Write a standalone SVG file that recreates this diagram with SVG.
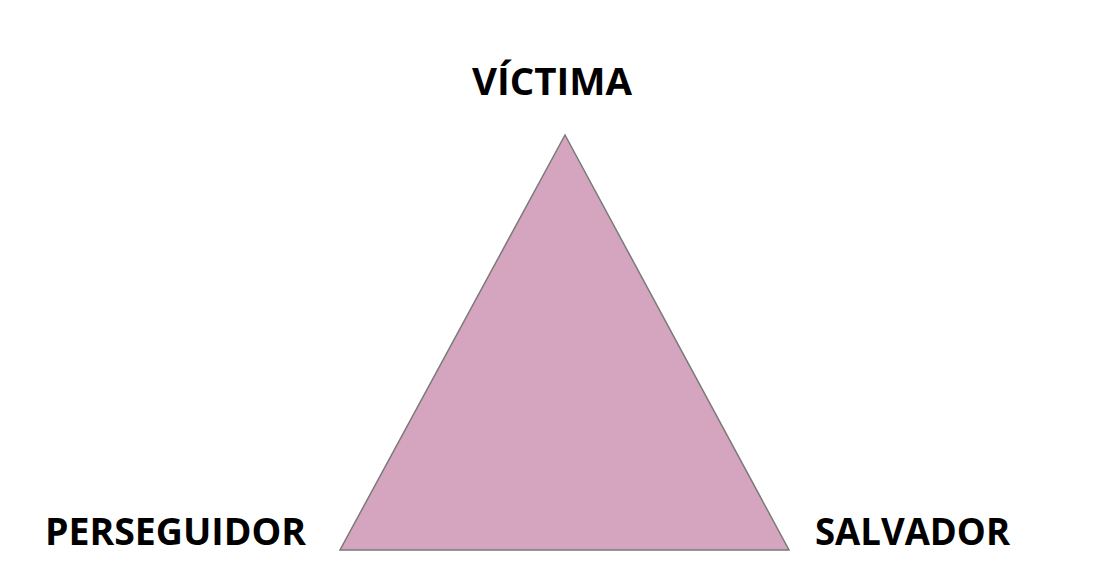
<svg xmlns="http://www.w3.org/2000/svg" width="1100" height="577" viewBox="0 0 1100 577">
<style>
.lbl{font-family:"Open Sans","Liberation Sans",sans-serif;font-weight:bold;font-size:38px;fill:#000}
</style>
<rect width="1100" height="577" fill="#fff"/>
<g id="connectors"></g>
<g id="triangle">
<polygon points="565,135 340,550 789,550" fill="#d5a5bf" stroke="#7a7a7a" stroke-width="1.5"/>
</g>
<g id="victima"><text class="lbl" x="472" y="95" textLength="160" lengthAdjust="spacingAndGlyphs">VÍCTIMA</text></g>
<g id="perseguidor"><text class="lbl" x="45" y="545" textLength="261" lengthAdjust="spacingAndGlyphs">PERSEGUIDOR</text></g>
<g id="salvador"><text class="lbl" x="815" y="545" textLength="195" lengthAdjust="spacingAndGlyphs">SALVADOR</text></g>
</svg>
